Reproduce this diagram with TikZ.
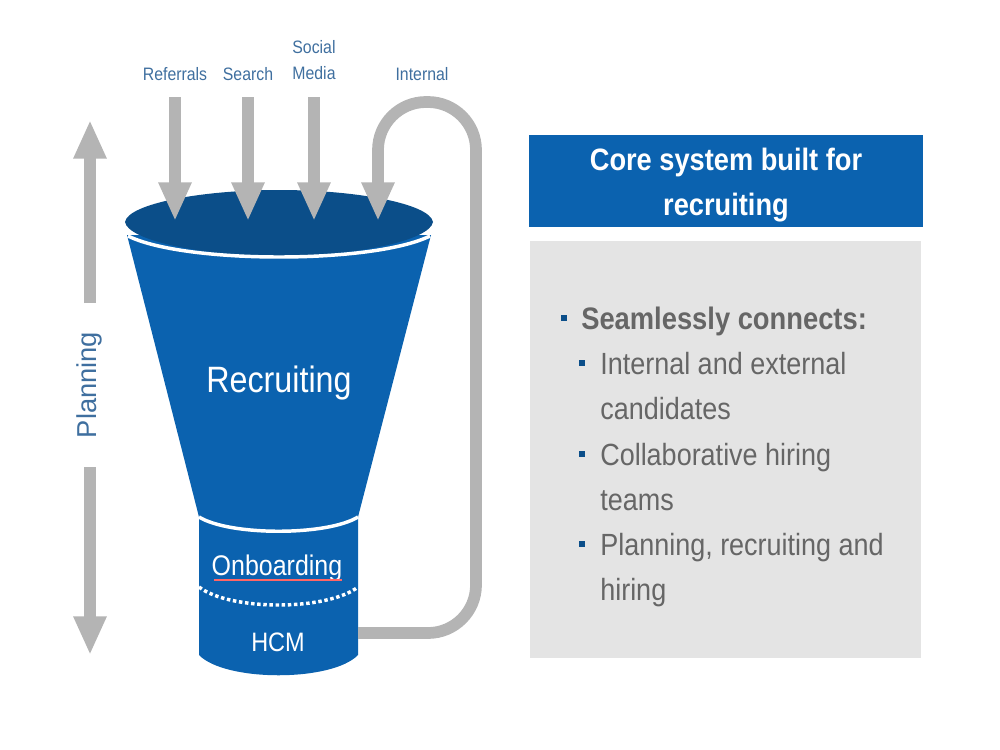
\documentclass[tikz,border=0pt]{standalone}
\usepackage{fontspec}
\setmainfont{Liberation Sans}
\newfontfamily\narrowfont[FakeStretch=0.88]{Liberation Sans}
\usetikzlibrary{arrows.meta}
\definecolor{funnelblue}{HTML}{0B62AF}
\definecolor{funneldark}{HTML}{0B4E89}
\definecolor{panelgrey}{HTML}{E4E4E4}
\definecolor{arrowgrey}{HTML}{B4B4B4}
\definecolor{labelblue}{HTML}{3F6F9F}
\definecolor{textgrey}{HTML}{666666}
\tikzset{
  feed/.style={draw=arrowgrey, line width=8.8pt, -{Triangle[width=23pt,length=29pt,fill=arrowgrey]}},
  source/.style={font=\narrowfont\fontsize{13.5}{20}\selectfont, text=labelblue, align=center, inner sep=0pt},
  inside/.style={text=white, inner sep=0pt, align=center},
  listhead/.style={anchor=west, text=textgrey, inner sep=0pt, font=\narrowfont\fontsize{23.3}{34}\selectfont\bfseries},
  listitem/.style={anchor=north west, text=textgrey, inner sep=0pt, align=left, font=\narrowfont\fontsize{23}{33.75}\selectfont},
  bullet/.style={fill=funneldark, minimum size=5.2pt, inner sep=0pt}
}
\begin{document}
\begin{tikzpicture}[x=0.75pt,y=-0.75pt]
\useasboundingbox (0,0) rectangle (1000,750);
% funnel body and stem
  \fill[funnelblue] (127,235) -- (199,517) -- (199,655) .. controls (225,682) and (332,682) .. (358,655)%
    -- (358,517) -- (431,235) -- cycle;
% funnel mouth
  \fill[funneldark] (125,222) .. controls (128,204) and (200,190) .. (279,190) .. controls (358,190) and (430,204) .. (433,222)%
    .. controls (430,240) and (358,256) .. (279,256) .. controls (200,256) and (128,240) .. cycle;
  \draw[white, line width=2.6pt] (128,236) .. controls (185,264) and (373,264) .. (430,236);
  \draw[white, line width=2.6pt] (199,517) .. controls (230,536) and (327,536) .. (358,517);
  \draw[white, line width=2.6pt, dotted] (199,587) .. controls (230,611) and (327,611) .. (358,587);
% funnel labels
  \node[inside, font=\narrowfont\fontsize{27.5}{32}\selectfont] (recruiting) at (279,383) {Recruiting};
  \node[inside, font=\narrowfont\fontsize{21.3}{26}\selectfont] (onboarding) at (277,568) {Onboarding};
  \node[inside, font=\narrowfont\fontsize{20}{26}\selectfont] (hcm) at (278,642) {HCM};
  \draw[red!60!white, line width=0.8pt] (214,580) -- (342,580);
% sources
  \node[source] (referrals) at (175,74) {Referrals};
  \node[source] (search) at (248,74) {Search};
  \node[source] (social) at (314,60) {Social\\Media};
  \node[source] (internal) at (422,74) {Internal};
  \coordinate (referralsin) at (175,221);
  \coordinate (searchin) at (248,221);
  \coordinate (socialin) at (314,221);
  \coordinate (internalin) at (378,221);
  \coordinate (hcmout) at (358,633);
  \draw[feed] (175,97) -- (referralsin);
  \draw[feed] (248,97) -- (searchin);
  \draw[feed] (314,97) -- (socialin);
  \draw[feed, rounded corners=36pt] (hcmout) -- (476,633) -- (476,102) -- (378,102) -- (internalin);
% planning
  \node[rotate=90, text=labelblue, inner sep=0pt, font=\fontsize{20.5}{24}\selectfont] (planning) at (89,385) {Planning};
  \coordinate (planningtop) at (90,120);
  \coordinate (planningbottom) at (90,655);
  \draw[feed] (90,303) -- (planningtop);
  \draw[feed] (90,467) -- (planningbottom);
% header
  \node[fill=funnelblue, minimum width=295.5pt, minimum height=69pt, inner sep=0pt] (header) at (726,181) {};
  \node[inside, font=\narrowfont\fontsize{23.2}{33.75}\selectfont\bfseries] (headertext) at (726,185) {Core system built for\\recruiting};
% panel
  \node[fill=panelgrey, minimum width=293pt, minimum height=312.75pt, inner sep=0pt] (panel) at (725.5,449.5) {};
  \node[listhead] (connects) at (581,321) {Seamlessly connects:};
  \node[listitem] (candidates) at (600,352) {Internal and external\\candidates};
  \node[listitem] (teams) at (600,443) {Collaborative hiring\\teams};
  \node[listitem] (hiring) at (600,533) {Planning, recruiting and\\hiring};
  \node[bullet] (bulletconnects) at (564,318) {};
  \node[bullet] (bulletcandidates) at (582,363) {};
  \node[bullet] (bulletteams) at (582,454) {};
  \node[bullet] (bullethiring) at (582,544) {};
\end{tikzpicture}
\end{document}
